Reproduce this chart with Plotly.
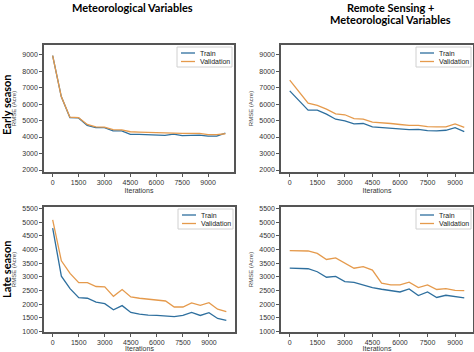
import plotly.graph_objects as go

iters_long = list(range(0, 10001, 500))   # left column: 0..10000
iters_short = list(range(0, 9501, 500))   # right column: 0..9500

# Early season, Meteorological Variables
early_met_train = [8940, 6450, 5180, 5160, 4710, 4570, 4570, 4370, 4370, 4160, 4160,
                   4140, 4120, 4100, 4180, 4080, 4100, 4120, 4060, 4060, 4240]
early_met_val = [8940, 6450, 5200, 5180, 4760, 4620, 4600, 4450, 4430, 4320, 4300,
                 4280, 4250, 4230, 4250, 4220, 4220, 4220, 4150, 4150, 4200]

# Early season, Remote Sensing + Meteorological Variables
early_rs_train = [6800, 6200, 5630, 5630, 5390, 5080, 4980, 4800, 4820, 4610,
                  4570, 4530, 4490, 4450, 4470, 4390, 4370, 4410, 4570, 4330]
early_rs_val = [7450, 6750, 6060, 5920, 5690, 5410, 5350, 5120, 5080, 4900,
                4880, 4820, 4760, 4710, 4710, 4630, 4610, 4610, 4800, 4590]

# Late season, Meteorological Variables
late_met_train = [4790, 3030, 2570, 2240, 2220, 2080, 2020, 1800, 1950, 1700, 1640,
                  1600, 1590, 1580, 1550, 1590, 1700, 1590, 1690, 1480, 1410]
late_met_val = [5090, 3590, 3130, 2790, 2790, 2650, 2640, 2290, 2540, 2270, 2220,
                2180, 2160, 2120, 1900, 1900, 2050, 1960, 2060, 1820, 1730]

# Late season, Remote Sensing + Meteorological Variables
late_rs_train = [3320, 3300, 3300, 3190, 2990, 3020, 2830, 2800, 2710, 2610,
                 2550, 2490, 2450, 2560, 2320, 2450, 2250, 2330, 2270, 2230]
late_rs_val = [3960, 3950, 3950, 3860, 3640, 3700, 3500, 3320, 3380, 3250,
               2770, 2710, 2710, 2810, 2610, 2710, 2540, 2570, 2510, 2500]

series_names = ["Train", "Validation"]
x_ticks = [0, 1500, 3000, 4500, 6000, 7500, 9000]
y_ticks_early = [2000, 3000, 4000, 5000, 6000, 7000, 8000, 9000]
y_ticks_late = [1000, 1500, 2000, 2500, 3000, 3500, 4000, 4500, 5000, 5500]

TRAIN_C = "#2e6f9e"
VAL_C = "#e59a4c"
COLORS = [TRAIN_C, VAL_C]
W, H = 474, 352

fig = go.Figure()

panels = [
    # (x, train, val, axis suffix, x domain px, y domain px)
    (iters_long, early_met_train, early_met_val, "", (44, 234), (45, 172)),
    (iters_short, early_rs_train, early_rs_val, "2", (281, 473), (45, 172)),
    (iters_long, late_met_train, late_met_val, "3", (44, 235), (207, 332)),
    (iters_short, late_rs_train, late_rs_val, "4", (281, 473), (207, 332)),
]

layout = dict(
    width=W, height=H,
    margin=dict(l=0, r=0, t=0, b=0, autoexpand=False),
    paper_bgcolor="white", plot_bgcolor="white",
    font=dict(family="Liberation Sans", size=7, color="#333"),
    showlegend=False,
)

tick_font = dict(family="Liberation Sans", size=7, color="#333")
shapes = []
annotations = []

for i, (xs, tr, va, sfx, xd, yd) in enumerate(panels):
    xa = "x" + sfx
    ya = "y" + sfx
    for name, vals, col in zip(series_names, [tr, va], COLORS):
        fig.add_trace(go.Scatter(x=xs, y=vals, mode="lines", name=name,
                                 line=dict(color=col, width=1.3),
                                 xaxis=xa, yaxis=ya))
    xmax = xs[-1]
    pad = 0.05 * xmax
    early = i < 2
    layout["xaxis" + sfx] = dict(
        domain=[xd[0] / W, xd[1] / W], anchor=ya, automargin=False,
        range=[-pad, xmax + pad], tickvals=x_ticks,
        showgrid=False, zeroline=False, showline=True, mirror=True,
        linecolor="#555", linewidth=1.5, ticks="outside", ticklen=3,
        tickcolor="#555", tickfont=tick_font,
        title=dict(text="Iterations", font=dict(size=7, color="#333"), standoff=3),
    )
    layout["yaxis" + sfx] = dict(
        domain=[1 - yd[1] / H, 1 - yd[0] / H], anchor=xa, automargin=False,
        range=[1880, 9580] if early else [985, 5560],
        tickvals=y_ticks_early if early else y_ticks_late,
        showgrid=False, zeroline=False, showline=True, mirror=True,
        linecolor="#555", linewidth=1.5, ticks="outside", ticklen=3,
        tickcolor="#555", tickfont=tick_font,
        title=dict(text="RMSE (Acre)", font=dict(size=6, color="#444"), standoff=5),
    )
    # compact matplotlib-style legend box in the upper-right corner of the panel
    bx1 = xd[1] - 2
    bx0 = bx1 - 55
    by0 = yd[0] + 2
    by1 = by0 + 20
    shapes.append(dict(type="rect", xref="paper", yref="paper",
                       x0=bx0 / W, x1=bx1 / W, y0=1 - by1 / H, y1=1 - by0 / H,
                       line=dict(color="#d0d0d0", width=1), fillcolor="white",
                       layer="above"))
    for k, (name, col) in enumerate(zip(series_names, COLORS)):
        ry = by0 + 6 + k * 8.5
        shapes.append(dict(type="line", xref="paper", yref="paper",
                           x0=(bx0 + 4) / W, x1=(bx0 + 18) / W,
                           y0=1 - ry / H, y1=1 - ry / H,
                           line=dict(color=col, width=1.3), layer="above"))
        annotations.append(dict(text=name, x=(bx0 + 21) / W, y=1 - ry / H,
                                xref="paper", yref="paper", xanchor="left",
                                yanchor="middle", showarrow=False,
                                font=dict(family="Liberation Sans", size=7, color="#222")))

layout["shapes"] = shapes
fig.update_layout(**layout)

title_font = dict(family="Lato", size=11, color="black")
annotations += [
    dict(text="<b>Meteorological Variables</b>", x=132 / W, y=1 - 7 / H,
         yanchor="middle"),
    dict(text="<b>Remote Sensing +</b>", x=390 / W, y=1 - 7 / H, yanchor="middle"),
    dict(text="<b>Meteorological Variables</b>", x=390 / W, y=1 - 19.5 / H,
         yanchor="middle"),
    dict(text="<b>Early season</b>", x=6 / W, y=1 - 105 / H, yanchor="middle",
         textangle=-90),
    dict(text="<b>Late season</b>", x=6 / W, y=1 - 270 / H, yanchor="middle",
         textangle=-90),
]
for a in annotations[-5:]:
    a.update(xref="paper", yref="paper", xanchor="center", showarrow=False,
             font=title_font)
fig.update_layout(annotations=annotations)

fig.write_html("out.html")
